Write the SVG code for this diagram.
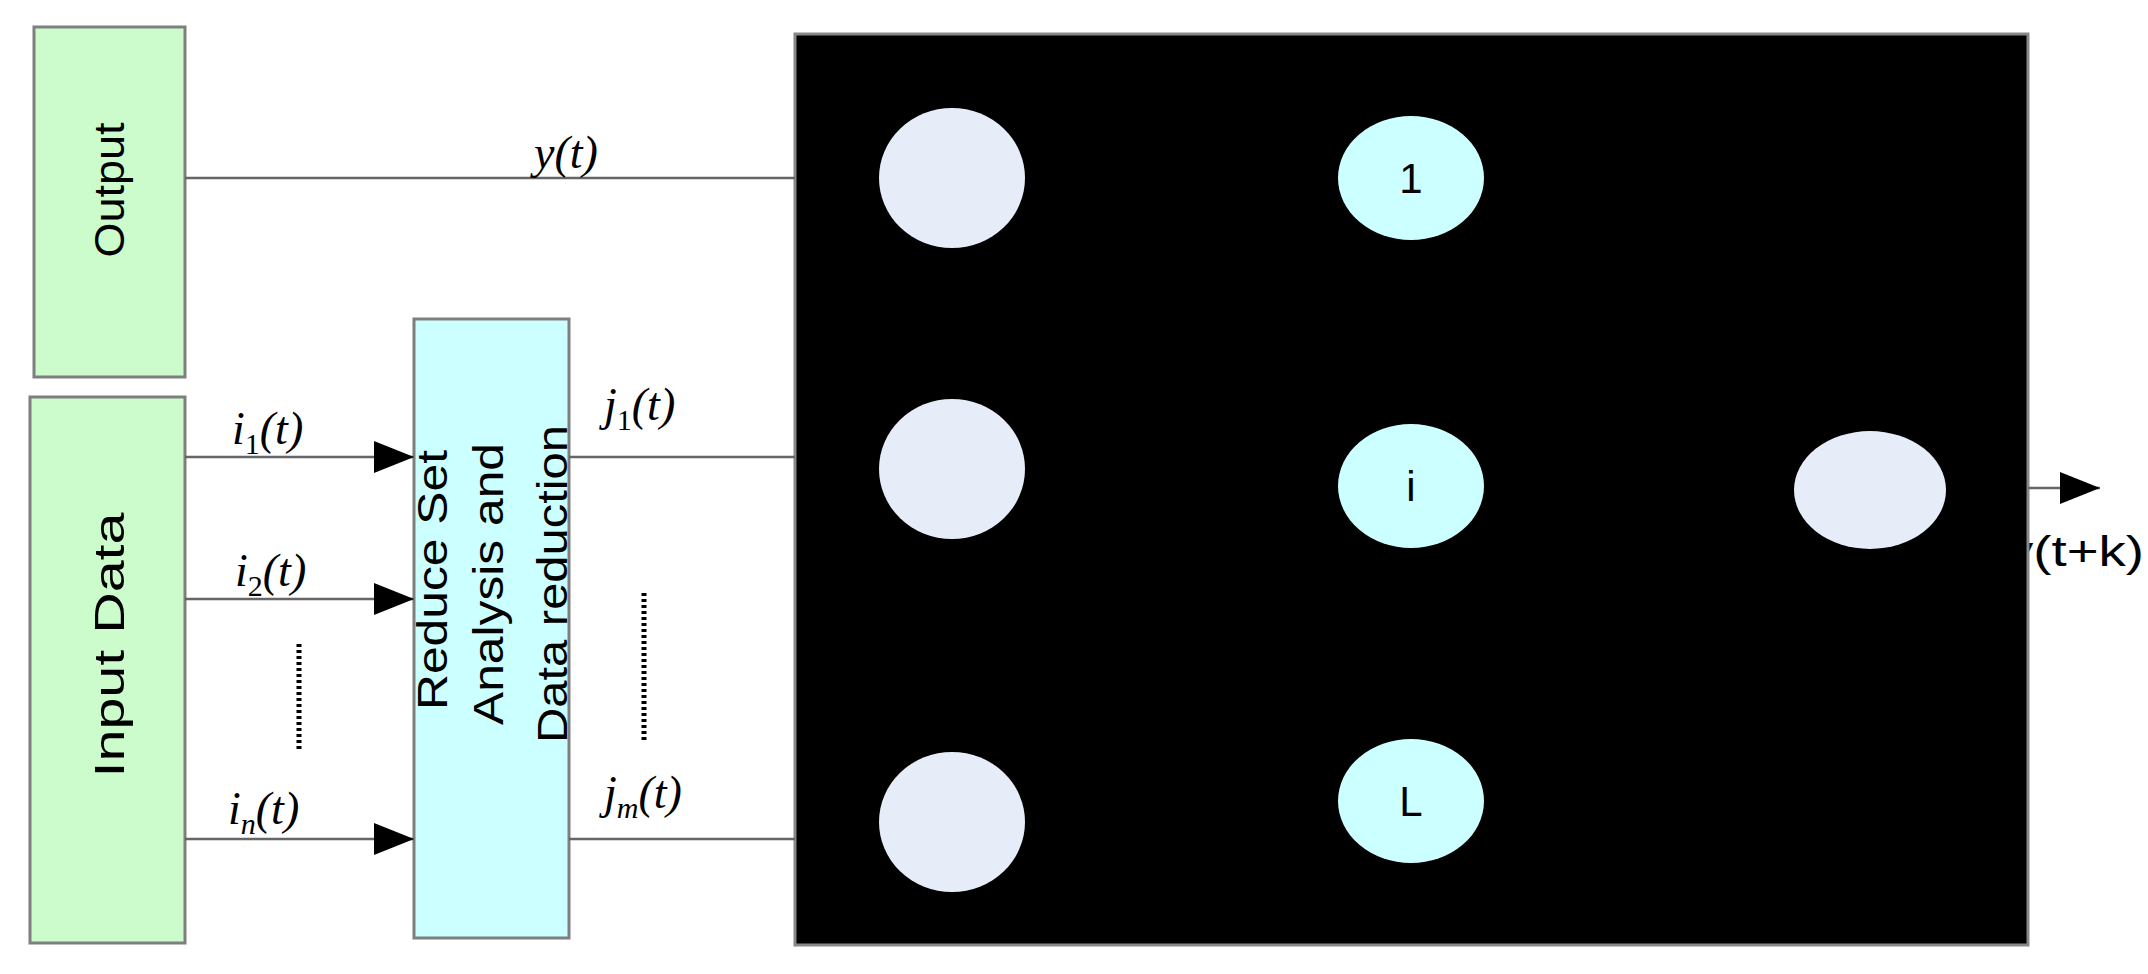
<svg xmlns="http://www.w3.org/2000/svg" width="2148" height="974" viewBox="0 0 2148 974">
<style>
.g{fill:#ccfccc;stroke:#7f7f7f;stroke-width:3}
.c{fill:#ccffff;stroke:#7f7f7f;stroke-width:3}
.l{stroke:#666;stroke-width:2.5;fill:none}
.t{font-family:"Liberation Sans",Arial,sans-serif;font-size:42px;fill:#000}
.m{font-family:"Liberation Serif","Times New Roman",serif;font-style:italic;font-size:46px;fill:#000}
.s{font-size:30px;font-style:normal}
.si{font-size:30px;font-style:italic}
.n1{fill:#e6ecf8}
.n2{fill:#ccffff}
</style>
<defs>
<marker id="b" viewBox="0 0 10 8" markerWidth="40" markerHeight="32" refX="10" refY="4" orient="auto" markerUnits="userSpaceOnUse"><path d="M0,0L10,4L0,8z" fill="#000"/></marker></defs>
<g id="outlabel"><text class="t" x="2006" y="566" font-size="46" textLength="138" lengthAdjust="spacingAndGlyphs">y(t+k)</text></g>
<g id="output"><rect class="g" x="34" y="27" width="151" height="350"/><text class="t" transform="translate(124,190) rotate(-90)" text-anchor="middle" textLength="135" lengthAdjust="spacingAndGlyphs">Output</text></g>
<g id="input"><rect class="g" x="30" y="397" width="155" height="546"/><text class="t" transform="translate(124,645) rotate(-90)" text-anchor="middle" textLength="265" lengthAdjust="spacingAndGlyphs">Input Data</text></g>
<g id="reduce"><rect class="c" x="414" y="319" width="155" height="619"/>
<text class="t" font-size="46" transform="translate(447,580) rotate(-90)" text-anchor="middle" textLength="260" lengthAdjust="spacingAndGlyphs">Reduce Set</text>
<text class="t" font-size="46" transform="translate(503,584) rotate(-90)" text-anchor="middle" textLength="282" lengthAdjust="spacingAndGlyphs">Analysis and</text>
<text class="t" font-size="46" transform="translate(567,584) rotate(-90)" text-anchor="middle" textLength="318" lengthAdjust="spacingAndGlyphs">Data reduction</text></g>
<g id="network"><rect x="795" y="34" width="1233" height="911" fill="#000" stroke="#888" stroke-width="3"/>
<ellipse class="n1" cx="952" cy="178" rx="73" ry="70"/>
<ellipse class="n1" cx="952" cy="469" rx="73" ry="70"/>
<ellipse class="n1" cx="952" cy="822" rx="73" ry="70"/>
<ellipse class="n2" cx="1411" cy="178" rx="73" ry="62"/>
<ellipse class="n2" cx="1411" cy="486" rx="73" ry="62"/>
<ellipse class="n2" cx="1411" cy="801" rx="73" ry="62"/>
<ellipse class="n1" cx="1870" cy="490" rx="76" ry="59"/>
<text class="t" x="1411" y="193" text-anchor="middle">1</text>
<text class="t" x="1411" y="501" text-anchor="middle">i</text>
<text class="t" x="1411" y="816" text-anchor="middle">L</text></g>
<g id="connectors">
<line class="l" x1="185" y1="178" x2="795" y2="178"/>
<line class="l" x1="185" y1="457" x2="414" y2="457" marker-end="url(#b)"/>
<line class="l" x1="185" y1="599" x2="414" y2="599" marker-end="url(#b)"/>
<line class="l" x1="185" y1="839" x2="414" y2="839" marker-end="url(#b)"/>
<line class="l" x1="569" y1="457" x2="795" y2="457"/>
<line class="l" x1="569" y1="839" x2="795" y2="839"/>
<line class="l" x1="2028" y1="488" x2="2100" y2="488" marker-end="url(#b)"/>
<line x1="299" y1="644" x2="299" y2="751" stroke="#000" stroke-width="5" stroke-dasharray="3,3"/>
<line x1="644" y1="593" x2="644" y2="740" stroke="#000" stroke-width="5" stroke-dasharray="3,3"/>
</g>
<g id="labels">
<text class="m" x="534" y="168">y(t)</text>
<text class="m" x="232" y="444">i<tspan class="s" dy="10">1</tspan><tspan dy="-10">(t)</tspan></text>
<text class="m" x="235" y="586">i<tspan class="s" dy="10">2</tspan><tspan dy="-10">(t)</tspan></text>
<text class="m" x="228" y="824">i<tspan class="si" dy="10">n</tspan><tspan dy="-10">(t)</tspan></text>
<text class="m" x="604" y="420">j<tspan class="s" dy="10">1</tspan><tspan dy="-10">(t)</tspan></text>
<text class="m" x="604" y="808">j<tspan class="si" dy="10">m</tspan><tspan dy="-10">(t)</tspan></text>
</g>
</svg>
